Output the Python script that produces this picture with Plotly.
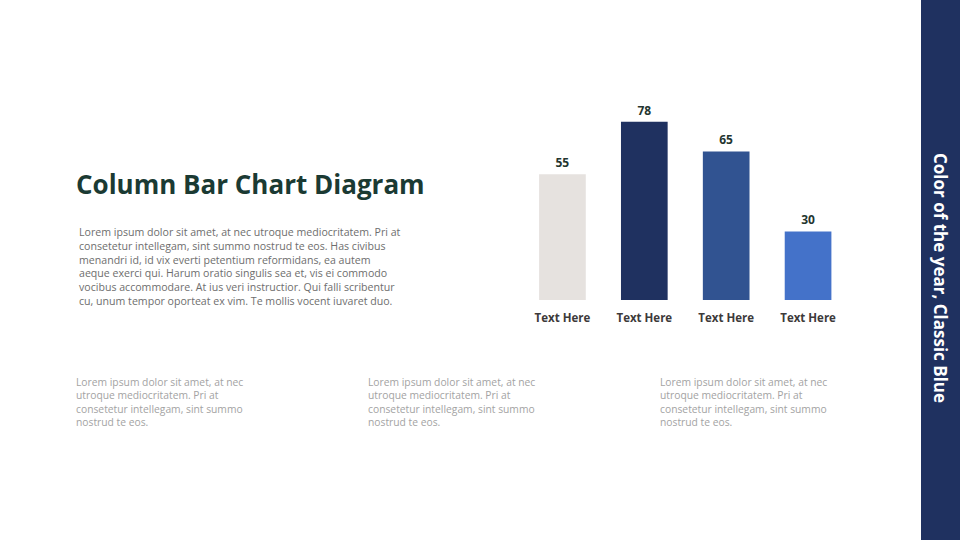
import plotly.graph_objects as go

categories = ["Text Here", "Text Here ", "Text Here  ", "Text Here   "]
values = [55, 78, 65, 30]
bar_colors = ["#e6e2df", "#1f3160", "#315391", "#4472c9"]

title_text = "Column Bar Chart Diagram"
paragraph_lines = [
    "Lorem ipsum dolor sit amet, at nec utroque mediocritatem. Pri at",
    "consetetur intellegam, sint summo nostrud te eos. Has civibus",
    "menandri id, id vix everti petentium reformidans, ea autem",
    "aeque exerci qui. Harum oratio singulis sea et, vis ei commodo",
    "vocibus accommodare. At ius veri instructior. Qui falli scribentur",
    "cu, unum tempor oporteat ex vim. Te mollis vocent iuvaret duo.",
]
column_lines = [
    "Lorem ipsum dolor sit amet, at nec",
    "utroque mediocritatem. Pri at",
    "consetetur intellegam, sint summo",
    "nostrud te eos.",
]
column_x = [76, 368, 660]
side_text = "Color of the year, Classic Blue"

W, H = 960, 540
FONT = "Open Sans"

fig = go.Figure()
fig.add_trace(go.Bar(
    x=categories, y=values,
    marker=dict(color=bar_colors, line=dict(width=0)),
    text=["<b>%d</b>" % v for v in values], textposition="outside",
    textfont=dict(family=FONT, size=12, color="#24352f"),
    cliponaxis=False, width=0.57,
))

fig.update_layout(
    width=W, height=H, margin=dict(l=0, r=0, t=0, b=0),
    paper_bgcolor="white", plot_bgcolor="white",
    showlegend=False,
    xaxis=dict(domain=[521.5 / W, 849 / W], showgrid=False, zeroline=False,
               showline=False, ticks="", ticklabelstandoff=9,
               tickvals=categories,
               ticktext=["<b>Text Here</b>"] * len(categories),
               tickfont=dict(family=FONT, size=11.5, color="#3d3a3a"),
               fixedrange=True),
    yaxis=dict(domain=[1 - 300 / H, 1 - 71.4 / H], range=[0, 100],
               visible=False, fixedrange=True),
)

shapes = [dict(type="rect", xref="paper", yref="paper",
               x0=921 / W, x1=1, y0=0, y1=1,
               fillcolor="#1f3160", line=dict(width=0), layer="below")]
fig.update_layout(shapes=shapes)

ann = []
ann.append(dict(text="<b>" + title_text + "</b>", x=74 / W, y=1 - 184 / H,
                xref="paper", yref="paper", xanchor="left", yanchor="middle",
                showarrow=False,
                font=dict(family=FONT, size=26, color="#1b3a33")))
ann.append(dict(text="<br>".join(paragraph_lines), x=77 / W, y=1 - 222.5 / H,
                xref="paper", yref="paper", xanchor="left", yanchor="top",
                align="left", showarrow=False,
                font=dict(family=FONT, size=10.6, color="#6e6e6e")))
for cx in column_x:
    ann.append(dict(text="<br>".join(column_lines), x=(cx - 2) / W, y=1 - 372.5 / H,
                    xref="paper", yref="paper", xanchor="left", yanchor="top",
                    align="left", showarrow=False,
                    font=dict(family=FONT, size=10.3, color="#a3a3a3")))
ann.append(dict(text="<b>" + side_text + "</b>", x=941 / W, y=1 - 278 / H,
                xref="paper", yref="paper", xanchor="center", yanchor="middle",
                textangle=90, showarrow=False,
                font=dict(family=FONT, size=17, color="white")))
fig.update_layout(annotations=ann)

fig.write_html("out.html")
